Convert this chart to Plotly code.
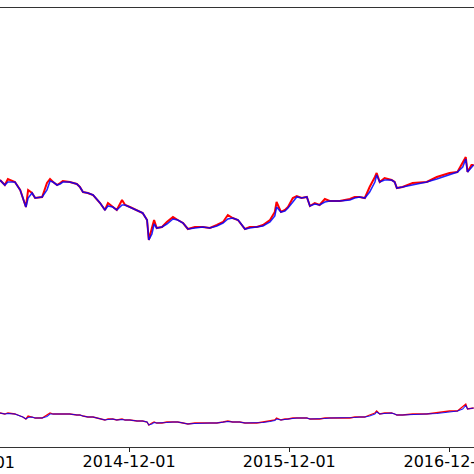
import pandas as pd
import plotly.graph_objects as go

# days since the first sample (2014-02-10)
start_date = "2014-02-10"
day_offset = [0, 11, 18, 34, 46, 52, 59, 64, 73, 80,
              96, 107, 114, 121, 130, 137, 143, 159, 175, 182,
              189, 200, 212, 228, 239, 246, 257, 266, 278, 285,
              296, 312, 325, 335, 339, 346, 351, 357, 369, 380,
              394, 405, 417, 428, 444, 462, 478, 494, 508, 519,
              530, 542, 546, 558, 569, 585, 599, 615, 626, 630,
              640, 649, 656, 667, 676, 687, 699, 706, 717, 728,
              740, 751, 774, 797, 808, 819, 831, 842, 854, 858,
              865, 876, 892, 899, 904, 917, 940, 972, 995, 1024,
              1042, 1054, 1061, 1065, 1074, 1079]

upper_actual = [267, 262, 268, 265, 257, 250, 240, 257, 254, 249,
                250, 264, 268, 265, 262, 264, 266, 265, 263, 260,
                255, 254, 252, 244, 237, 244, 240, 237, 247, 242,
                240, 237, 234, 227, 207, 219, 227, 219, 220, 225,
                230, 227, 224, 218, 220, 220, 219, 222, 225, 232,
                229, 227, 225, 218, 220, 220, 222, 227, 235, 245,
                235, 237, 240, 249, 251, 249, 250, 241, 244, 242,
                248, 246, 246, 248, 250, 250, 249, 260, 270, 274,
                265, 269, 267, 265, 259, 260, 264, 265, 270, 274,
                275, 285, 290, 275, 282, 282]

upper_pred = [267, 262, 265, 265, 257, 250, 240, 249, 254, 249,
              250, 257, 266, 265, 262, 263, 265, 265, 263, 260,
              255, 254, 252, 244, 237, 241, 240, 237, 242, 242,
              240, 237, 234, 227, 207, 213, 223, 219, 220, 223,
              228, 227, 224, 218, 219, 220, 219, 221, 224, 228,
              229, 227, 225, 218, 219, 220, 221, 225, 231, 240,
              235, 236, 239, 245, 250, 249, 250, 241, 243, 242,
              245, 246, 246, 247, 249, 250, 249, 255, 265, 272,
              265, 267, 267, 265, 259, 260, 262, 265, 268, 272,
              275, 280, 288, 275, 279, 282]

lower_actual = [34, 33, 34, 33, 31, 30, 28, 31, 30, 29,
                29, 32, 34, 33, 33, 33, 33, 33, 32, 32,
                31, 30, 30, 28, 27, 28, 28, 27, 28, 27,
                27, 26, 26, 25, 22, 24, 25, 24, 24, 25,
                25, 25, 24, 23, 24, 24, 24, 24, 25, 26,
                25, 25, 25, 24, 24, 24, 25, 26, 27, 29,
                27, 28, 28, 29, 29, 29, 29, 28, 28, 28,
                29, 29, 29, 29, 30, 30, 30, 32, 34, 36,
                33, 34, 34, 33, 32, 32, 33, 33, 34, 36,
                36, 40, 43, 38, 39, 39]

lower_pred = [34, 33, 33.5, 33, 31, 30, 28, 29.5, 30, 29,
              29, 30.5, 33, 33, 33, 33, 33, 33, 32, 32,
              31, 30, 30, 28, 27, 27.5, 28, 27, 27.5, 27,
              27, 26, 26, 25, 22, 23, 24.5, 24, 24, 24.5,
              25, 25, 24, 23, 23.5, 24, 24, 24, 24.5, 25.5,
              25, 25, 25, 24, 24, 24, 24.5, 25.5, 26.5, 28,
              27, 27.5, 28, 28.5, 29, 29, 29, 28, 28, 28,
              28.5, 29, 29, 29, 29.5, 30, 30, 31, 33, 35,
              33, 33.5, 34, 33, 32, 32, 32.5, 33, 33.5, 35,
              36, 38, 41.5, 38, 38.5, 39]

dates = pd.Timestamp(start_date) + pd.to_timedelta(day_offset, unit="D")

fig = go.Figure()

for actual, pred, w in [(upper_actual, upper_pred, 2), (lower_actual, lower_pred, 1.3)]:
    fig.add_trace(go.Scatter(x=dates, y=actual, mode="lines",
                             line=dict(color="#ff0000", width=w)))
    fig.add_trace(go.Scatter(x=dates, y=pred, mode="lines", opacity=0.85,
                             line=dict(color="#0000ff", width=w * 0.8)))

# left tick label is mostly cut off by the frame, as in the original
fig.add_annotation(text="2013-12-01", xref="paper", yref="paper",
                   x=-0.066, y=0, xanchor="center", yanchor="top", yshift=-4,
                   showarrow=False, font=dict(size=16, color="black"))

fig.update_layout(
    width=474, height=474,
    margin=dict(l=0, r=0, t=8, b=27),
    paper_bgcolor="white", plot_bgcolor="white",
    showlegend=False,
    font=dict(family="DejaVu Sans", size=16, color="black"),
    xaxis=dict(range=["2014-02-10", "2017-01-24 18:00"],
               tick0="2013-12-01", dtick="M12", tickformat="%Y-%m-%d",
               ticks="outside", ticklen=4, tickcolor="#222",
               ticklabelstandoff=-4, ticklabeloverflow="allow",
               automargin=False,
               showgrid=False, zeroline=False,
               showline=True, linecolor="#333", linewidth=1.2, mirror=True),
    yaxis=dict(range=[0, 439], showticklabels=False, showgrid=False,
               zeroline=False, showline=False, ticks="", automargin=False),
)

fig.write_html("out.html", config={"displayModeBar": False},
               post_script="document.body.style.margin='0';")
